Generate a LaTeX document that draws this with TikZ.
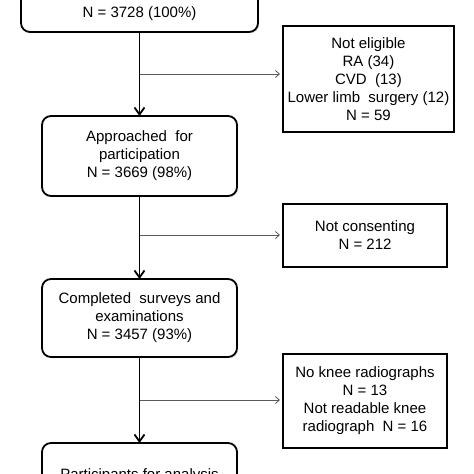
\documentclass[tikz,border=0pt]{standalone}
\usepackage{fontspec}
\setmainfont{Liberation Sans}
\usetikzlibrary{arrows.meta,shadows}
\begin{document}
\begin{tikzpicture}[x=1pt,y=-1pt,
  every node/.style={inner sep=0pt,outer sep=0pt},
  txt/.style={font=\fontsize{15}{18}\selectfont,align=center},
  mainbox/.style={draw=black,line width=1.8pt,rounded corners=9pt,fill=white,
    drop shadow={opacity=0.25,shadow xshift=1.2pt,shadow yshift=-1.2pt}},
  sidebox/.style={draw=black,line width=1.8pt,fill=white,
    drop shadow={opacity=0.25,shadow xshift=1.2pt,shadow yshift=-1.2pt}},
  mainarrow/.style={draw=black,line width=1.8pt,-{Straight Barb[length=7pt,width=10pt]}},
  sidearrow/.style={draw=black!65,line width=0.8pt,-{Straight Barb[length=4pt,width=7pt]}}
]
\useasboundingbox (0,0) rectangle (474,474);
\fill[white] (0,0) rectangle (474,474);

% main column
\node[mainbox,txt,minimum width=237pt,minimum height=54pt] (b1) at (139.5,5)
  {\phantom{X}\\N = 3728 (100\%)};
\node[mainbox,txt,minimum width=195pt,minimum height=80pt] (b2) at (139.5,156)
  {Approached\ \ for\\participation\\N = 3669 (98\%)};
\node[mainbox,txt,minimum width=195pt,minimum height=78pt] (b3) at (139.5,318)
  {Completed\ \ surveys and\\examinations\\N = 3457 (93\%)};
\node[mainbox,minimum width=195pt,minimum height=80pt] (b4) at (139.5,483) {};
\node[txt,anchor=base] (b4t) at (139.5,479) {Participants for analysis};

% side boxes
\node[sidebox,txt,minimum width=171pt,minimum height=106pt] (s1) at (368.5,79)
  {Not eligible\\RA (34)\\CVD\ \ (13)\\Lower limb\ \ surgery (12)\\N = 59};
\node[sidebox,txt,minimum width=164pt,minimum height=63pt] (s2) at (365,235.5)
  {Not consenting\\N = 212};
\node[sidebox,txt,minimum width=164pt,minimum height=94pt] (s3) at (365,401)
  {No knee radiographs\\N = 13\\Not readable knee\\radiograph\ \ N = 16};

% main arrows
\draw[mainarrow] (b1.south) -- (b2.north);
\draw[mainarrow] (b2.south) -- (b3.north);
\draw[mainarrow] (b3.south) -- (b4.north);

% side arrows
\coordinate (j1) at (139.5,74);
\coordinate (j2) at (139.5,235);
\coordinate (j3) at (139.5,400);
\draw[sidearrow] (j1) -- ([xshift=-3pt]j1 -| s1.west);
\draw[sidearrow] (j2) -- ([xshift=-3pt]j2 -| s2.west);
\draw[sidearrow] (j3) -- ([xshift=-3pt]j3 -| s3.west);
\end{tikzpicture}
\end{document}
